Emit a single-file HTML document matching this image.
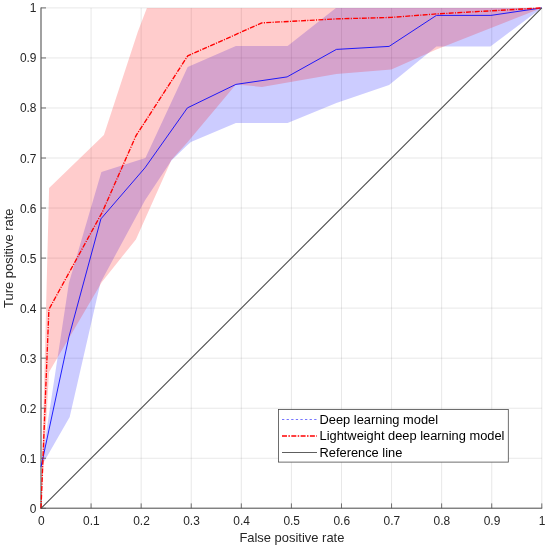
<!DOCTYPE html>
<html><head><meta charset="utf-8"><title>ROC</title>
<style>html,body{margin:0;padding:0;background:#fff}svg{display:block}</style></head>
<body>
<svg width="550" height="550" viewBox="0 0 550 550">
<rect width="550" height="550" fill="#fff"/>
<path d="M41.00 508.30V7.90M41.00 508.30H541.80M91.08 508.30V7.90M41.00 458.26H541.80M141.16 508.30V7.90M41.00 408.22H541.80M191.24 508.30V7.90M41.00 358.18H541.80M241.32 508.30V7.90M41.00 308.14H541.80M291.40 508.30V7.90M41.00 258.10H541.80M341.48 508.30V7.90M41.00 208.06H541.80M391.56 508.30V7.90M41.00 158.02H541.80M441.64 508.30V7.90M41.00 107.98H541.80M491.72 508.30V7.90M41.00 57.94H541.80M541.80 508.30V7.90M41.00 7.90H541.80" stroke="#262626" stroke-opacity="0.105" stroke-width="1" fill="none"/>
<polygon points="41.0,466.9 68.9,282.9 101.4,171.9 145.4,157.9 187.7,66.9 235.9,45.9 287.6,45.9 335.9,7.9 541.8,7.9 541.8,7.9 490.4,46.5 436.4,46.5 389.1,84.9 336.4,102.9 287.6,123.1 235.9,123.1 190.9,142.0 186.4,146.0 171.4,160.6 144.9,200.4 100.4,282.9 69.7,417.1 41.0,466.9" fill="#0000ff" fill-opacity="0.2"/>
<polygon points="41.0,508.3 49.1,187.9 103.9,134.9 137.9,31.4 146.9,7.9 541.8,7.9 541.8,7.9 436.4,49.4 391.4,69.6 336.4,73.9 261.9,86.9 235.9,84.4 187.7,142.0 171.4,160.0 135.9,239.4 101.9,281.9 49.1,371.9 41.0,508.3" fill="#ff0000" fill-opacity="0.2"/>
<path d="M41.00 508.20v-4.8M41.00 508.30h5M91.08 508.20v-4.8M41.00 458.26h5M141.16 508.20v-4.8M41.00 408.22h5M191.24 508.20v-4.8M41.00 358.18h5M241.32 508.20v-4.8M41.00 308.14h5M291.40 508.20v-4.8M41.00 258.10h5M341.48 508.20v-4.8M41.00 208.06h5M391.56 508.20v-4.8M41.00 158.02h5M441.64 508.20v-4.8M41.00 107.98h5M491.72 508.20v-4.8M41.00 57.94h5M541.80 508.20v-4.8M41.00 7.90h5" stroke="#6e6e6e" stroke-width="1" fill="none"/>
<path d="M41.00 7.50V508.70" stroke="#5c5c5c" stroke-width="1.1" fill="none"/>
<path d="M40.50 508.20H542.20" stroke="#505050" stroke-width="1" fill="none"/>
<polyline points="41.0,466.9 68.9,336.9 100.9,218.9 144.9,167.9 187.4,107.9 235.9,84.4 287.1,76.9 336.4,49.4 389.1,46.4 436.4,15.4 490.9,15.4 541.8,7.9" fill="none" stroke="#0000ff" stroke-width="0.85" stroke-linejoin="round"/>
<polyline points="41.0,508.3 48.9,309.4 102.4,211.9 135.9,135.9 187.7,55.9 261.9,22.9 336.4,18.9 391.4,17.4 436.9,13.9 541.8,7.9" fill="none" stroke="#ff0000" stroke-width="1.35" stroke-dasharray="5 1.3 1.1 1.3" stroke-linejoin="round"/>
<line x1="41.0" y1="508.3" x2="541.8" y2="7.9" stroke="#4a4a4a" stroke-width="1.1"/>
<g font-family="'Liberation Sans', Arial, sans-serif" font-size="11.95" fill="#262626">
<text x="41.3" y="525.0" text-anchor="middle">0</text>
<text x="36.5" y="512.8" text-anchor="end">0</text>
<text x="91.4" y="525.0" text-anchor="middle">0.1</text>
<text x="36.5" y="462.7" text-anchor="end">0.1</text>
<text x="141.5" y="525.0" text-anchor="middle">0.2</text>
<text x="36.5" y="412.7" text-anchor="end">0.2</text>
<text x="191.5" y="525.0" text-anchor="middle">0.3</text>
<text x="36.5" y="362.6" text-anchor="end">0.3</text>
<text x="241.6" y="525.0" text-anchor="middle">0.4</text>
<text x="36.5" y="312.6" text-anchor="end">0.4</text>
<text x="291.7" y="525.0" text-anchor="middle">0.5</text>
<text x="36.5" y="262.6" text-anchor="end">0.5</text>
<text x="341.8" y="525.0" text-anchor="middle">0.6</text>
<text x="36.5" y="212.5" text-anchor="end">0.6</text>
<text x="391.9" y="525.0" text-anchor="middle">0.7</text>
<text x="36.5" y="162.5" text-anchor="end">0.7</text>
<text x="441.9" y="525.0" text-anchor="middle">0.8</text>
<text x="36.5" y="112.4" text-anchor="end">0.8</text>
<text x="492.0" y="525.0" text-anchor="middle">0.9</text>
<text x="36.5" y="62.4" text-anchor="end">0.9</text>
<text x="542.1" y="525.0" text-anchor="middle">1</text>
<text x="36.5" y="12.4" text-anchor="end">1</text>
</g>
<g font-family="'Liberation Sans', Arial, sans-serif" font-size="12.95" fill="#262626">
<text x="291.9" y="542.1" text-anchor="middle">False positive rate</text>
<text transform="translate(13.3,258.2) rotate(-90)" text-anchor="middle">Ture positive rate</text>
</g>
<rect x="278.5" y="409.5" width="229.8" height="52.6" fill="#fff" stroke="#4a4a4a" stroke-width="0.8"/>
<line x1="282" y1="419.5" x2="317" y2="419.5" stroke="#0000ff" stroke-opacity="0.6" stroke-width="0.9" stroke-dasharray="2.3 2.3"/>
<line x1="282" y1="436" x2="317" y2="436" stroke="#ff0000" stroke-width="1.5" stroke-dasharray="5 1.4 1.5 1.4"/>
<line x1="282" y1="452.5" x2="317" y2="452.5" stroke="#555" stroke-width="0.95"/>
<g font-family="'Liberation Sans', Arial, sans-serif" font-size="12.85" fill="#000">
<text x="319.5" y="424.2">Deep learning model</text>
<text x="319.5" y="440.3">Lightweight deep learning model</text>
<text x="319.5" y="457.2">Reference line</text>
</g>
</svg>
</body></html>
